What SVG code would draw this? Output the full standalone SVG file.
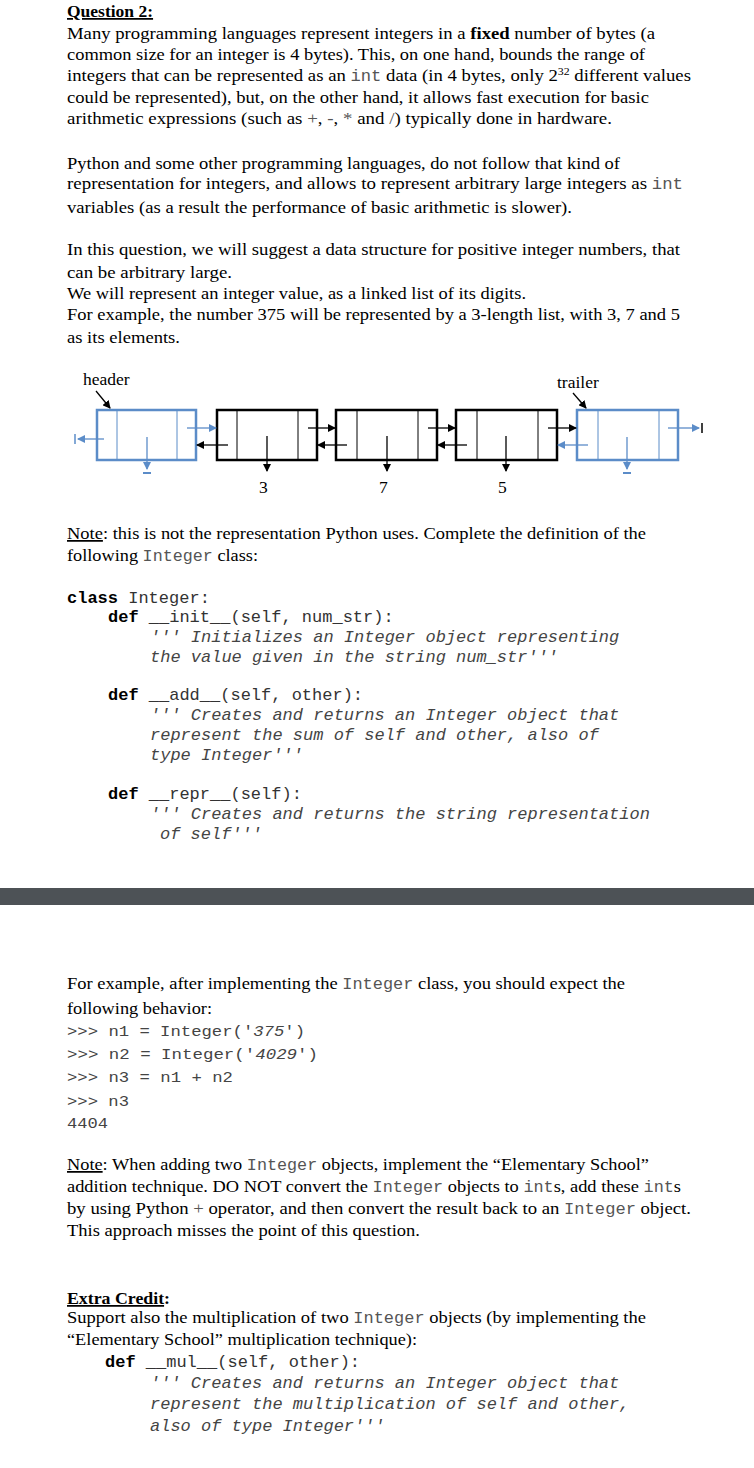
<svg xmlns="http://www.w3.org/2000/svg" width="754" height="1468" viewBox="0 0 754 1468">
<style>
text{font-family:"Liberation Serif",serif;font-size:17.5px;fill:#000}
.m{font-family:"Liberation Mono",monospace;fill:#555;font-size:16px}
.c{font-family:"Liberation Mono",monospace;font-size:17px;fill:#333}
.ci{font-family:"Liberation Mono",monospace;font-size:17px;fill:#444;font-style:italic}
.k{font-weight:bold;fill:#000}
.p{font-family:"Liberation Mono",monospace;font-size:15px;fill:#444}
.bb{fill:none;stroke:#000;stroke-width:2.5}
.bl{fill:none;stroke:#5b8cc8;stroke-width:2.5}
.dk{stroke:#000;stroke-width:1}
.dl{stroke:#5b8cc8;stroke-width:1}
.ak{stroke:#000;stroke-width:1.3;marker-end:url(#ak)}
.al{stroke:#5b8cc8;stroke-width:1.3;marker-end:url(#al)}
</style>
<defs>
<marker id="ak" markerWidth="8" markerHeight="8" refX="7" refY="4" orient="auto" markerUnits="userSpaceOnUse"><path d="M0,0L8,4L0,8z" fill="#000"/></marker>
<marker id="al" markerWidth="8" markerHeight="8" refX="7" refY="4" orient="auto" markerUnits="userSpaceOnUse"><path d="M0,0L8,4L0,8z" fill="#5b8cc8"/></marker>
</defs>
<g id="intro">
<text x="67" y="17" font-weight="bold" text-decoration="underline">Question 2:</text>
<text x="67" y="39" textLength="588" lengthAdjust="spacingAndGlyphs">Many programming languages represent integers in a <tspan font-weight="bold">fixed</tspan> number of bytes (a</text>
<text x="67" y="60" textLength="578" lengthAdjust="spacingAndGlyphs">common size for an integer is 4 bytes). This, on one hand, bounds the range of</text>
<text x="67" y="81" textLength="624" lengthAdjust="spacingAndGlyphs">integers that can be represented as an <tspan class="m">int</tspan> data (in 4 bytes, only 2<tspan font-size="11" dy="-6">32</tspan><tspan dy="6"> different values</tspan></text>
<text x="67" y="103" textLength="582" lengthAdjust="spacingAndGlyphs">could be represented), but, on the other hand, it allows fast execution for basic</text>
<text x="67" y="124" textLength="545" lengthAdjust="spacingAndGlyphs">arithmetic expressions (such as <tspan fill="#555">+</tspan>, <tspan fill="#555">-</tspan>, <tspan fill="#555">*</tspan> and <tspan fill="#555">/</tspan>) typically done in hardware.</text>
<text x="67" y="169" textLength="553" lengthAdjust="spacingAndGlyphs">Python and some other programming languages, do not follow that kind of</text>
<text x="67" y="189" textLength="616" lengthAdjust="spacingAndGlyphs">representation for integers, and allows to represent arbitrary large integers as <tspan class="m">int</tspan></text>
<text x="67" y="213" textLength="505" lengthAdjust="spacingAndGlyphs">variables (as a result the performance of basic arithmetic is slower).</text>
<text x="67" y="255" textLength="613" lengthAdjust="spacingAndGlyphs">In this question, we will suggest a data structure for positive integer numbers, that</text>
<text x="67" y="278" textLength="165" lengthAdjust="spacingAndGlyphs">can be arbitrary large.</text>
<text x="67" y="299" textLength="459" lengthAdjust="spacingAndGlyphs">We will represent an integer value, as a linked list of its digits.</text>
<text x="67" y="320" textLength="613" lengthAdjust="spacingAndGlyphs">For example, the number 375 will be represented by a 3-length list, with 3, 7 and 5</text>
<text x="67" y="343" textLength="113" lengthAdjust="spacingAndGlyphs">as its elements.</text>
</g>
<g id="header-node">
<text x="83" y="385" font-size="13">header</text>
<rect class="bl" x="97" y="410" width="99" height="50"/>
<line class="dl" x1="117" y1="410" x2="117" y2="460"/><line class="dl" x1="177" y1="410" x2="177" y2="460"/>
</g>
<g id="node-3">
<rect class="bb" x="217" y="410" width="100" height="50"/>
<line class="dk" x1="237" y1="410" x2="237" y2="460"/><line class="dk" x1="298" y1="410" x2="298" y2="460"/>
<text x="259" y="493" font-size="20">3</text>
</g>
<g id="node-7">
<rect class="bb" x="336" y="410" width="101" height="50"/>
<line class="dk" x1="357" y1="410" x2="357" y2="460"/><line class="dk" x1="418" y1="410" x2="418" y2="460"/>
<text x="379" y="493" font-size="20">7</text>
</g>
<g id="node-5">
<rect class="bb" x="456" y="410" width="101" height="50"/>
<line class="dk" x1="477" y1="410" x2="477" y2="460"/><line class="dk" x1="538" y1="410" x2="538" y2="460"/>
<text x="498" y="493" font-size="20">5</text>
</g>
<g id="trailer-node">
<text x="557" y="388" font-size="13">trailer</text>
<rect class="bl" x="577" y="410" width="101" height="50"/>
<line class="dl" x1="598" y1="410" x2="598" y2="460"/><line class="dl" x1="659" y1="410" x2="659" y2="460"/>
</g>
<g id="connectors">
<line class="ak" x1="96" y1="391" x2="110" y2="408"/>
<line class="ak" x1="573" y1="393" x2="586" y2="408"/>
<line class="al" x1="104" y1="439" x2="78" y2="439"/><line x1="75" y1="434" x2="75" y2="444" stroke="#5b8cc8" stroke-width="1.5"/>
<line class="al" x1="147" y1="437" x2="147" y2="469"/><line x1="143" y1="473" x2="151" y2="473" stroke="#5b8cc8" stroke-width="2"/>
<line class="al" x1="187" y1="428" x2="216" y2="428"/>
<line class="ak" x1="228" y1="445" x2="197" y2="445"/>
<line class="ak" x1="267" y1="436" x2="267" y2="471"/>
<line class="ak" x1="308" y1="428" x2="335" y2="428"/>
<line class="ak" x1="347" y1="445" x2="318" y2="445"/>
<line class="ak" x1="387" y1="436" x2="387" y2="471"/>
<line class="ak" x1="428" y1="428" x2="455" y2="428"/>
<line class="ak" x1="467" y1="445" x2="438" y2="445"/>
<line class="ak" x1="506" y1="436" x2="506" y2="471"/>
<line class="ak" x1="548" y1="428" x2="576" y2="428"/>
<line class="al" x1="588" y1="445" x2="558" y2="445"/>
<line class="al" x1="627" y1="437" x2="627" y2="469"/><line x1="623" y1="473" x2="631" y2="473" stroke="#5b8cc8" stroke-width="2"/>
<line class="al" x1="668" y1="428" x2="699" y2="428"/><line x1="702" y1="423" x2="702" y2="433" stroke="#000" stroke-width="1.5"/>
</g>
<g id="class-def">
<text x="67" y="539" textLength="579" lengthAdjust="spacingAndGlyphs"><tspan text-decoration="underline">Note</tspan>: this is not the representation Python uses. Complete the definition of the</text>
<text x="67" y="561" textLength="191" lengthAdjust="spacingAndGlyphs">following <tspan class="m">Integer</tspan> class:</text>
<text x="67" y="603" class="c"><tspan class="k">class</tspan> Integer:</text>
<text x="108" y="622" class="c"><tspan class="k">def</tspan> __init__(self, num_str):</text>
<text x="150" y="642" class="ci">''' Initializes an Integer object representing</text>
<text x="150" y="662" class="ci">the value given in the string num_str'''</text>
<text x="108" y="700" class="c"><tspan class="k">def</tspan> __add__(self, other):</text>
<text x="150" y="720" class="ci">''' Creates and returns an Integer object that</text>
<text x="150" y="740" class="ci">represent the sum of self and other, also of</text>
<text x="150" y="760" class="ci">type Integer'''</text>
<text x="108" y="799" class="c"><tspan class="k">def</tspan> __repr__(self):</text>
<text x="150" y="819" class="ci">''' Creates and returns the string representation</text>
<text x="160" y="839" class="ci">of self'''</text>
</g>
<rect x="0" y="888" width="754" height="17" fill="#4d5256"/>
<g id="example">
<text x="67" y="989" textLength="558" lengthAdjust="spacingAndGlyphs">For example, after implementing the <tspan class="m">Integer</tspan> class, you should expect the</text>
<text x="67" y="1014" textLength="145" lengthAdjust="spacingAndGlyphs">following behavior:</text>
<text x="67" y="1036" class="p" textLength="238" lengthAdjust="spacingAndGlyphs">&gt;&gt;&gt; n1 = Integer('<tspan font-style="italic">375</tspan>')</text>
<text x="67" y="1059" class="p" textLength="251" lengthAdjust="spacingAndGlyphs">&gt;&gt;&gt; n2 = Integer('<tspan font-style="italic">4029</tspan>')</text>
<text x="67" y="1082" class="p" textLength="166" lengthAdjust="spacingAndGlyphs">&gt;&gt;&gt; n3 = n1 + n2</text>
<text x="67" y="1106" class="p" textLength="62" lengthAdjust="spacingAndGlyphs">&gt;&gt;&gt; n3</text>
<text x="67" y="1128" class="p" textLength="41" lengthAdjust="spacingAndGlyphs">4404</text>
</g>
<g id="note">
<text x="67" y="1170" textLength="582" lengthAdjust="spacingAndGlyphs"><tspan text-decoration="underline">Note</tspan>: When adding two <tspan class="m">Integer</tspan> objects, implement the “Elementary School”</text>
<text x="67" y="1192" textLength="614" lengthAdjust="spacingAndGlyphs">addition technique. DO NOT convert the <tspan class="m">Integer</tspan> objects to <tspan class="m">int</tspan>s, add these <tspan class="m">int</tspan>s</text>
<text x="67" y="1214" textLength="624" lengthAdjust="spacingAndGlyphs">by using Python <tspan fill="#555">+</tspan> operator, and then convert the result back to an <tspan class="m">Integer</tspan> object.</text>
<text x="67" y="1236" textLength="353" lengthAdjust="spacingAndGlyphs">This approach misses the point of this question.</text>
</g>
<g id="extra">
<text x="67" y="1304" font-weight="bold" textLength="103" lengthAdjust="spacingAndGlyphs"><tspan text-decoration="underline">Extra Credit</tspan>:</text>
<text x="67" y="1323" textLength="579" lengthAdjust="spacingAndGlyphs">Support also the multiplication of two <tspan class="m">Integer</tspan> objects (by implementing the</text>
<text x="67" y="1345" textLength="350" lengthAdjust="spacingAndGlyphs">“Elementary School” multiplication technique):</text>
<text x="105" y="1367" class="c"><tspan class="k">def</tspan> __mul__(self, other):</text>
<text x="150" y="1388" class="ci">''' Creates and returns an Integer object that</text>
<text x="150" y="1409" class="ci">represent the multiplication of self and other,</text>
<text x="150" y="1431" class="ci">also of type Integer'''</text>
</g>
</svg>
